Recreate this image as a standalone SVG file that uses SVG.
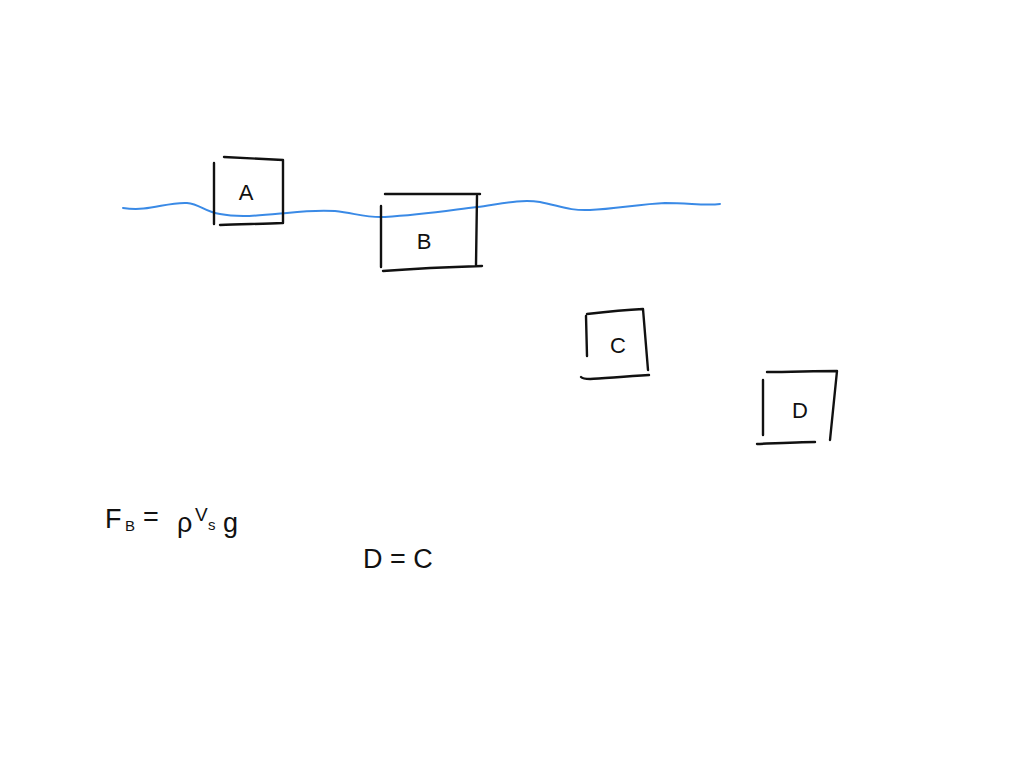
<svg xmlns="http://www.w3.org/2000/svg" width="1024" height="768" viewBox="0 0 1024 768">
<style>
.ink{fill:none;stroke:#111;stroke-width:2.4;stroke-linecap:round;stroke-linejoin:round}
.water{fill:none;stroke:#3a8ae6;stroke-width:2;stroke-linecap:round}
.lbl{font-family:"Liberation Sans",Arial,sans-serif;font-size:22px;fill:#111;text-anchor:middle}
.eq{font-family:"Liberation Sans",Arial,sans-serif;font-size:27px;fill:#111}
</style>
<rect width="1024" height="768" fill="#fff"/>
<g id="water">
<path class="water" d="M123,208 C150,212 165,202 187,203 C200,204 205,212 220,214 C240,218 265,215 287,213 C305,211 320,210 335,211 C355,213 365,218 385,217 C420,215 445,211 477,207 C500,204 520,199 540,202 C560,206 570,211 590,210 C615,209 640,204 665,203 C690,203 705,206 720,204"/>
</g>
<g id="nodeA">
<path class="ink" d="M214,163 L214,224 M224,157 C245,158 265,159 283,160 M283,160 L283,223 M220,225 C240,224 262,224 282,223"/>
<text class="lbl" x="246" y="200">A</text>
</g>
<g id="nodeB">
<path class="ink" d="M385,194 L480,194 M381,206 L381,267 M477,196 L476,265 M383,271 C410,269 450,267 482,266"/>
<text class="lbl" x="424" y="249">B</text>
</g>
<g id="nodeC">
<path class="ink" d="M586,316 L587,356 M587,314 C605,312 625,310 643,309 L648,370 M581,377 C585,381 600,378 649,375"/>
<text class="lbl" x="618" y="353">C</text>
</g>
<g id="nodeD">
<path class="ink" d="M763,380 L763,435 M767,372 C790,372 815,371 837,371 L830,440 M757,444 C780,443 800,442 815,442"/>
<text class="lbl" x="800" y="418">D</text>
</g>
<g id="formula">
<text class="eq" x="105" y="528">F<tspan x="125" y="531" font-size="15">B</tspan><tspan x="143" y="526">=</tspan><tspan x="177" y="532">ρ</tspan><tspan x="195" y="521" font-size="19">V</tspan><tspan x="208" y="530" font-size="15">s</tspan><tspan x="223" y="532">g</tspan></text>
<text class="eq" x="363" y="568">D = C</text>
</g>
</svg>
